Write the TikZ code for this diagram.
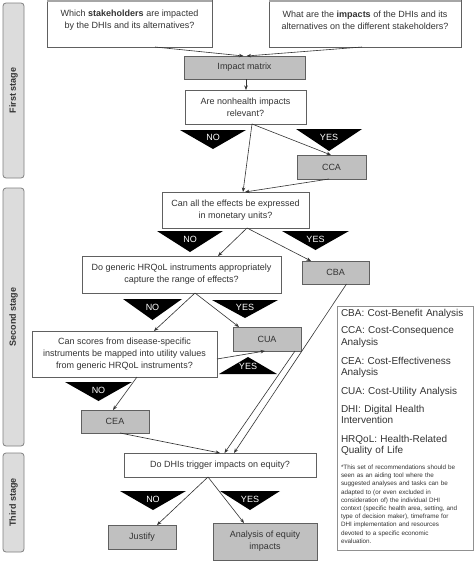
\documentclass[tikz,border=0pt]{standalone}
\usepackage{fontspec}
\setmainfont{Liberation Sans}
\usetikzlibrary{arrows.meta}
\definecolor{bordc}{HTML}{606060}
\definecolor{grayfill}{HTML}{C0C0C0}
\definecolor{stagefill}{HTML}{DCDCDC}
\definecolor{txtc}{HTML}{333333}
\definecolor{linec}{HTML}{333333}
\begin{document}
\begin{tikzpicture}[x=1pt,y=-1pt,
  every node/.style={inner sep=0pt,outer sep=0pt,text=txtc},
  wbox/.style={draw=bordc,line width=0.8pt,fill=white,align=center,font=\fontsize{9}{12}\selectfont},
  gbox/.style={draw=bordc,line width=0.8pt,fill=grayfill,align=center,font=\fontsize{9}{12}\selectfont},
  stagebar/.style={draw=bordc!80,line width=0.8pt,fill=stagefill,rounded corners=3pt},
  stagetext/.style={rotate=90,font=\bfseries\fontsize{9}{11}\selectfont},
  trifill/.style={fill=black},
  trilabel/.style={text=white,font=\fontsize{9}{11}\selectfont},
  conn/.style={draw=linec,line width=0.6pt,-{Stealth[length=4.5pt,width=3.5pt]}},
  legtext/.style={align=left,anchor=north west,font=\fontsize{10}{11.5}\selectfont,text width=130pt}
]
\useasboundingbox (0,0) rectangle (474,562);
\fill[white] (0,0) rectangle (474,562);

% stage bars
\node[stagebar,minimum width=21pt,minimum height=175pt] (s1) at (13.5,90.5) {};
\node[stagetext] (s1t) at (s1) {First stage};
\node[stagebar,minimum width=21pt,minimum height=258pt] (s2) at (13.5,317) {};
\node[stagetext] (s2t) at (s2) {Second stage};
\node[stagebar,minimum width=21pt,minimum height=99pt] (s3) at (13.5,502.5) {};
\node[stagetext] (s3t) at (s3) {Third stage};

% top questions
\node[wbox,minimum width=165pt,minimum height=53pt] (q1) at (129.5,20.5) {Which \textbf{stakeholders} are impacted\\by the DHIs and its alternatives?};
\node[wbox,minimum width=192pt,minimum height=53pt] (q2) at (365,20.5) {What are the \textbf{impacts} of the DHIs and its\\alternatives on the different stakeholders?};
\draw[draw=gray!70,line width=2pt] (q1.north west |- 0,1) -- (q1.north east |- 0,1);
\draw[draw=gray!70,line width=2pt] (q2.north west |- 0,1) -- (q2.north east |- 0,1);

\node[gbox,minimum width=121pt,minimum height=23pt] (impact) at (244.5,67.5) {Impact matrix};
\node[wbox,minimum width=121pt,minimum height=34pt] (nonh) at (245.5,107) {Are nonhealth impacts\\relevant?};
\node[gbox,minimum width=69pt,minimum height=24pt] (cca) at (331.5,167) {CCA};
\node[wbox,minimum width=147pt,minimum height=36pt] (canall) at (235.5,210) {Can all the effects be expressed\\in monetary units?};
\node[gbox,minimum width=67pt,minimum height=23pt] (cba) at (335.5,272.5) {CBA};
\node[wbox,minimum width=199pt,minimum height=37pt] (generic) at (181.5,274.5) {Do generic HRQoL instruments appropriately\\capture the range of effects?};
\node[gbox,minimum width=68pt,minimum height=24pt] (cua) at (267,339) {CUA};
\node[wbox,minimum width=185pt,minimum height=46pt] (scores) at (124.5,354) {Can scores from disease-specific\\instruments be mapped into utility values\\from generic HRQoL instruments?};
\node[gbox,minimum width=68pt,minimum height=23pt] (cea) at (115,421.5) {CEA};
\node[wbox,minimum width=192pt,minimum height=24pt] (equity) at (220,465) {Do DHIs trigger impacts on equity?};
\node[gbox,minimum width=68pt,minimum height=24pt] (justify) at (142,537) {Justify};
\node[gbox,minimum width=104pt,minimum height=37pt] (analysis) at (265,541.5) {Analysis of equity\\impacts};

% triangles
\fill[trifill] (180,130) -- (246,130) -- (213,149) -- cycle;
\node[trilabel] (t1) at (213,137.5) {NO};
\fill[trifill] (296,129) -- (362,129) -- (329,151) -- cycle;
\node[trilabel] (t2) at (329,137) {YES};
\fill[trifill] (157,231) -- (223,231) -- (190,252) -- cycle;
\node[trilabel] (t3) at (190,239) {NO};
\fill[trifill] (282,231) -- (349,231) -- (315.5,250) -- cycle;
\node[trilabel] (t4) at (315.5,239) {YES};
\fill[trifill] (123,299) -- (182,299) -- (152.5,320) -- cycle;
\node[trilabel] (t5) at (152.5,307) {NO};
\fill[trifill] (212,300) -- (278,300) -- (245,318) -- cycle;
\node[trilabel] (t6) at (245,307.5) {YES};
\fill[trifill] (219,374) -- (277,374) -- (248,357) -- cycle;
\node[trilabel] (t7) at (248,366.5) {YES};
\fill[trifill] (65,382) -- (132,382) -- (98.5,401) -- cycle;
\node[trilabel] (t8) at (98.5,390) {NO};
\fill[trifill] (120,491) -- (186,491) -- (153,510) -- cycle;
\node[trilabel] (t9) at (153,499.5) {NO};
\fill[trifill] (220,491) -- (280,491) -- (250,510) -- cycle;
\node[trilabel] (t10) at (250,499.5) {YES};

% connectors
\draw[conn] ([xshift=25.5pt]q1.south) -- ([xshift=-1pt]impact.north);
\draw[conn] ([xshift=-3pt]q2.south) -- ([xshift=2pt]impact.north);
\draw[conn] ([xshift=1.5pt]impact.south) -- ([xshift=0.5pt]nonh.north);
\draw[conn] ([xshift=6.5pt]nonh.south) -- ([xshift=7.5pt]canall.north);
\draw[conn] ([xshift=6.5pt]nonh.south) -- ([xshift=-0.5pt]cca.north);
\draw[conn] ([xshift=-2.5pt]cca.south) -- ([xshift=9.5pt]canall.north);
\draw[conn] ([xshift=11.5pt]canall.south) -- ([xshift=36.5pt]generic.north);
\draw[conn] ([xshift=11.5pt]canall.south) -- ([xshift=-24.5pt]cba.north);
\draw[conn] ([xshift=13.5pt]generic.south) -- ([xshift=29.5pt]scores.north);
\draw[conn] ([xshift=13.5pt]generic.south) -- ([xshift=-28pt]cua.north);
\draw[conn] ([yshift=-5pt]scores.east) -- ([xshift=-2pt]cua.south);
\draw[conn] ([xshift=12.5pt]scores.south) -- ([xshift=-2pt]cea.north);
\draw[conn] ([xshift=5pt]cea.south) -- ([xshift=0pt]equity.north);
\draw[conn] ([xshift=28pt]cua.south) -- ([xshift=4.5pt]equity.north);
\draw[conn] ([xshift=11pt]cba.south) -- ([xshift=14pt]equity.north);
\draw[conn] ([xshift=-12pt]equity.south) -- ([xshift=15pt]justify.north);
\draw[conn] ([xshift=-12pt]equity.south) -- ([xshift=-21pt]analysis.north);

% legend
\node[draw=bordc!70,line width=0.8pt,fill=white,minimum width=136pt,minimum height=244pt] (legend) at (405,428) {};
\node[legtext] (l1) at (341,309) {CBA: Cost-Benefit Analysis};
\node[legtext] (l2) at (341,327) {CCA: Cost-Consequence\\Analysis};
\node[legtext] (l3) at (341,357) {CEA: Cost-Effectiveness\\Analysis};
\node[legtext] (l4) at (341,387) {CUA: Cost-Utility Analysis};
\node[legtext] (l5) at (341,405) {DHI: Digital Health\\Intervention};
\node[legtext] (l6) at (341,435) {HRQoL: Health-Related\\Quality of Life};
\node[legtext,font=\fontsize{6.3}{8.2}\selectfont] (l7) at (341,465) {*This set of recommendations should be\\seen as an aiding tool where the\\suggested analyses and tasks can be\\adapted to (or even excluded in\\consideration of) the individual DHI\\context (specific health area, setting, and\\type of decision maker), timeframe for\\DHI implementation and resources\\devoted to a specific economic\\evaluation.};
\end{tikzpicture}
\end{document}
